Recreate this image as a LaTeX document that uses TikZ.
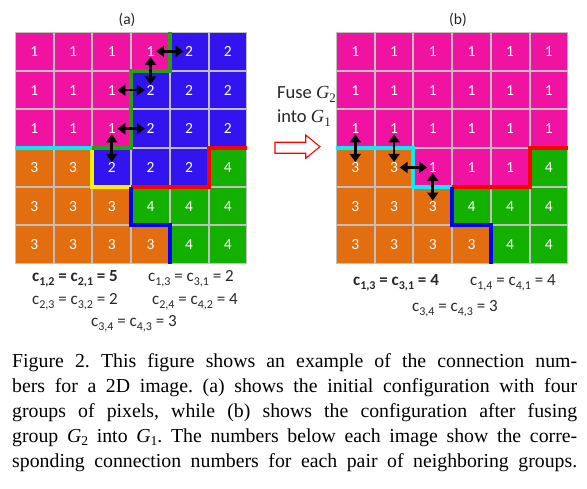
\documentclass[tikz,border=0pt]{standalone}
\usepackage{fontspec}
\setmainfont{Liberation Serif}
\newfontfamily\calfont{Carlito}
\newfontfamily\capfont{Liberation Serif}
\usetikzlibrary{arrows.meta}
\definecolor{g1}{RGB}{240,18,160}
\definecolor{g2}{RGB}{50,20,240}
\definecolor{g3}{RGB}{226,110,16}
\definecolor{g4}{RGB}{20,176,0}
\definecolor{cgry}{RGB}{192,192,192}
\definecolor{lgrn}{RGB}{40,160,20}
\definecolor{eqtxt}{RGB}{40,40,40}
\definecolor{bcyan}{RGB}{0,240,250}
\newcommand\csub[1]{c\raisebox{-3.5pt}{\fontsize{12}{12}\selectfont #1}}
\newcommand\capG[1]{{\itshape G}\raisebox{-3.5pt}{\fontsize{13.5}{13.5}\selectfont #1}}
\newcommand\fuseG[1]{{\rmfamily\itshape G}\raisebox{-3.5pt}{\rmfamily\fontsize{13}{13}\selectfont #1}}
\newcommand\pixgrid[3]{%
  \begin{scope}[shift={(#2,457pt)}, x=38.7pt, y=-38.7pt]
    \fill[cgry] (0,0) rectangle (6,6);
    \foreach \rowvals [count=\r from 0] in {#3} {
      \foreach \v [count=\c from 0] in \rowvals {
        \node[cell, fill=g\v] (#1\r\c) at (\c+0.5,\r+0.5) {\v};
      }
    }
  \end{scope}}
\begin{document}
\begin{tikzpicture}[x=1pt,y=1pt,
  cell/.style={minimum size=36.7pt, inner sep=0pt, text=white, font=\calfont\fontsize{15.5}{15.5}\selectfont},
  bnd/.style={line width=4pt, line join=miter},
  dbl/.style={{Triangle[length=8pt,width=11pt]}-{Triangle[length=8pt,width=11pt]}, line width=2.6pt, black, shorten <=5.6pt, shorten >=5.6pt},
  lbl/.style={inner sep=0pt, font=\calfont\fontsize{15.5}{15.5}\selectfont, text=black!85},
  eq/.style={inner sep=0pt, anchor=base west, font=\calfont\fontsize{17}{17}\selectfont, text=eqtxt},
  capline/.style={inner sep=0pt, anchor=base west, font=\capfont\fontsize{19.8}{25}\selectfont\frenchspacing},
  fuse/.style={inner sep=0pt, anchor=base west, font=\calfont\fontsize{18.5}{18.5}\selectfont, text=black!85}]
\useasboundingbox (0,0) rectangle (587,489);
\fill[white] (0,0) rectangle (587,489);

\node[lbl] (la) at (127,469) {(a)};
\node[lbl] (lb) at (458,469) {(b)};

\pixgrid{a}{15pt}{{1,1,1,1,2,2},{1,1,1,2,2,2},{1,1,1,2,2,2},{3,3,2,2,2,4},{3,3,3,4,4,4},{3,3,3,3,4,4}}
\pixgrid{b}{336pt}{{1,1,1,1,1,1},{1,1,1,1,1,1},{1,1,1,1,1,1},{3,3,1,1,1,4},{3,3,3,4,4,4},{3,3,3,3,4,4}}

\begin{scope}[shift={(15pt,457pt)}, x=38.7pt, y=-38.7pt, bnd]
  \draw[yellow] (2,3) -- (2,4) -- (3,4);
  \draw[lgrn] (4,0) -- (4,1) -- (3,1) -- (3,3) -- (2,3);
  \draw[bcyan] (0,3) -- (2,3);
  \draw[red] (3,4) -- (5,4) -- (5,3) -- (6,3);
  \draw[blue] (3,4) -- (3,5) -- (4,5) -- (4,6);
\end{scope}
\begin{scope}[shift={(336pt,457pt)}, x=38.7pt, y=-38.7pt, bnd]
  \draw[bcyan] (0,3) -- (2,3) -- (2,4) -- (3,4);
  \draw[red] (3,4) -- (5,4) -- (5,3) -- (6,3);
  \draw[blue] (3,4) -- (3,5) -- (4,5) -- (4,6);
\end{scope}

\draw[dbl] (a03.center) -- (a04.center);
\draw[dbl] (a03.center) -- (a13.center);
\draw[dbl] (a12.center) -- (a13.center);
\draw[dbl] (a22.center) -- (a23.center);
\draw[dbl] (a22.center) -- (a32.center);

\draw[dbl] (b20.center) -- (b30.center);
\draw[dbl] (b21.center) -- (b31.center);
\draw[dbl] (b31.center) -- (b32.center);
\draw[dbl] (b32.center) -- (b42.center);

\node[fuse] (f1) at (277,390) {Fuse \fuseG{2}};
\node[fuse] (f2) at (277,366) {into \fuseG{1}};
\draw[red, line width=1.1pt, fill=white, line join=miter]
  (275,346.7) -- (305.7,346.7) -- (305.7,354) -- (320,342.3) -- (305.7,330.7) -- (305.7,335.7) -- (275,335.7) -- cycle;

\node[eq] (ea1) at (32,207) {\bfseries \csub{1,2} = \csub{2,1} = 5};
\node[eq] (ea2) at (148,207) {\csub{1,3} = \csub{3,1} = 2};
\node[eq] (ea3) at (32,184) {\csub{2,3} = \csub{3,2} = 2};
\node[eq] (ea4) at (152,184) {\csub{2,4} = \csub{4,2} = 4};
\node[eq] (ea5) at (91,162) {\csub{3,4} = \csub{4,3} = 3};

\node[eq] (eb1) at (353,203) {\bfseries \csub{1,3} = \csub{3,1} = 4};
\node[eq] (eb2) at (470,203) {\csub{1,4} = \csub{4,1} = 4};
\node[eq] (eb3) at (412,177) {\csub{3,4} = \csub{4,3} = 3};

\node[capline] (c1) at (12,121.5) {\hbox to 565pt{Figure 2. This figure shows an example of the connection num-}};
\node[capline] (c2) at (12,96.5) {\hbox to 565pt{bers for a 2D image. (a) shows the initial configuration with four}};
\node[capline] (c3) at (12,71.5) {\hbox to 565pt{groups of pixels, while (b) shows the configuration after fusing}};
\node[capline] (c4) at (12,46.5) {\hbox to 565pt{group \capG{2} into \capG{1}. The numbers below each image show the corre-}};
\node[capline] (c5) at (12,21.5) {\hbox to 565pt{sponding connection numbers for each pair of neighboring groups.}};
\end{tikzpicture}
\end{document}
